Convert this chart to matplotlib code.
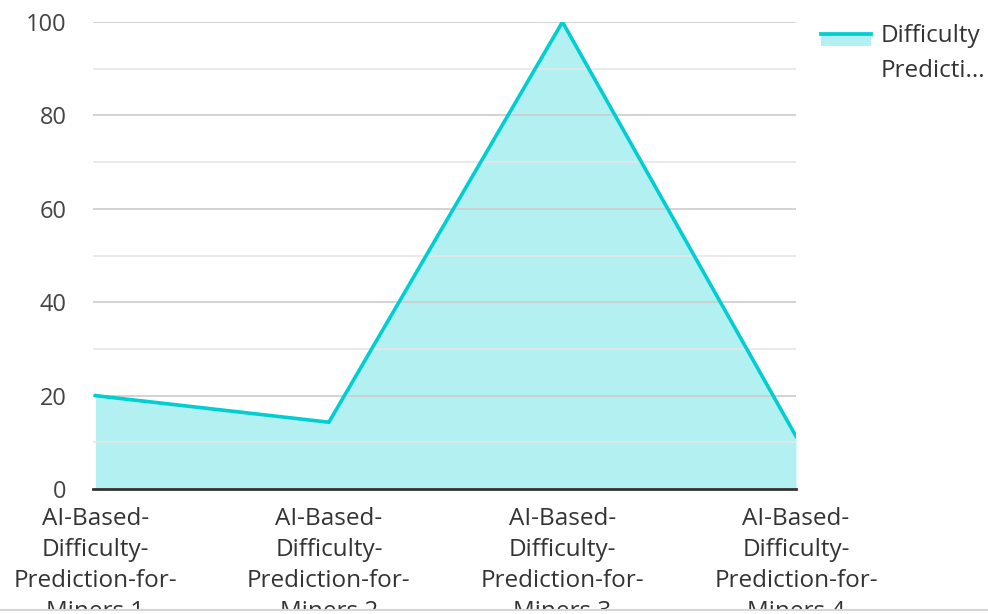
import matplotlib
matplotlib.use("Agg")
import matplotlib.pyplot as plt
from matplotlib.lines import Line2D
from matplotlib.patches import Rectangle
from matplotlib.ticker import MultipleLocator

plt.rcParams['font.family'] = ['Open Sans', 'DejaVu Sans']

categories = [
    "AI-Based-\nDifficulty-\nPrediction-for-\nMiners 1",
    "AI-Based-\nDifficulty-\nPrediction-for-\nMiners 2",
    "AI-Based-\nDifficulty-\nPrediction-for-\nMiners 3",
    "AI-Based-\nDifficulty-\nPrediction-for-\nMiners 4",
]
values = [20, 14.3, 100, 11.3]
series_label = "Difficulty\nPredicti..."

line_color = "#00CED1"

fig = plt.figure(figsize=(9.88, 6.14), dpi=100)
ax = fig.add_axes([93 / 988, 1 - 489 / 614, (796 - 93) / 988, (489 - 22) / 614])

x = list(range(len(values)))
ax.fill_between(x, values, 0, color=line_color, alpha=0.3, lw=0, zorder=1)
ax.plot(x, values, color=line_color, lw=2.6, zorder=3, solid_joinstyle="miter")

ax.set_xlim(-0.01, len(values) - 1)
ax.set_ylim(0, 100)
ax.yaxis.set_major_locator(MultipleLocator(20))
ax.yaxis.set_minor_locator(MultipleLocator(10))
ax.grid(which="major", axis="y", color="#cccccc", lw=1.2, zorder=2)
ax.grid(which="minor", axis="y", color="#e6e6e6", lw=1.2, zorder=2)
ax.set_axisbelow(False)

for s in ["top", "right", "left"]:
    ax.spines[s].set_visible(False)
ax.spines["bottom"].set_color("#333333")
ax.spines["bottom"].set_linewidth(2)
ax.spines["bottom"].set_zorder(4)

ax.set_xticks(x)
ax.set_xticklabels(categories, fontsize=17.5, color="#333333", linespacing=1.38)
ax.tick_params(axis="x", length=0, pad=13)
ax.tick_params(axis="y", which="both", length=0, pad=19, labelsize=17, labelcolor="#444444")

# legend
fig.patches.append(Rectangle((821 / 988, 1 - 46 / 614), 50 / 988, 11 / 614,
                             transform=fig.transFigure, color=line_color, alpha=0.3, lw=0))
fig.lines.append(Line2D([821 / 988, 871 / 988], [1 - 33.5 / 614, 1 - 33.5 / 614],
                        transform=fig.transFigure, color=line_color, lw=2.7))
fig.text(881 / 988, 1 - 24 / 614, series_label, fontsize=17.5, color="#333333",
         va="top", ha="left", linespacing=1.6)

# clipped bottom edge
fig.patches.append(Rectangle((0, 0), 1, 4 / 614, transform=fig.transFigure,
                             facecolor="white", edgecolor="none", zorder=10))
fig.lines.append(Line2D([0, 1], [4 / 614, 4 / 614], transform=fig.transFigure,
                        color="#d6d6d6", lw=1.5, zorder=11))

fig.savefig("out.png", dpi=100)
